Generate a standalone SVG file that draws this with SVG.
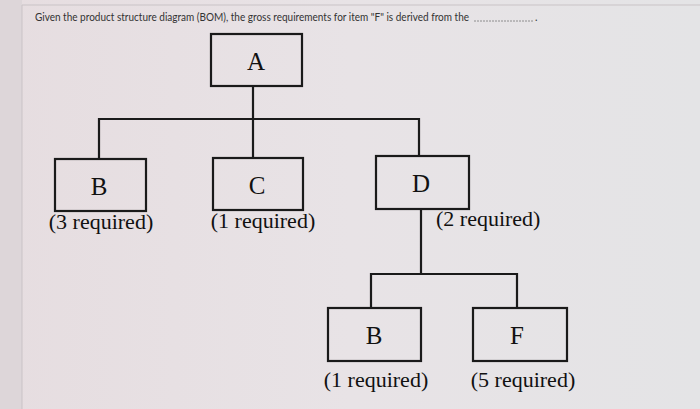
<svg xmlns="http://www.w3.org/2000/svg" width="700" height="409" viewBox="0 0 700 409">
  <defs>
    <linearGradient id="bg" x1="0" y1="0" x2="1" y2="0">
      <stop offset="0" stop-color="#e6dde0"/>
      <stop offset="0.5" stop-color="#e8e3e6"/>
      <stop offset="1" stop-color="#e4e4e6"/>
    </linearGradient>
  </defs>
  <style>
    .box { fill: none; stroke: #1a1a1a; stroke-width: 2.2; }
    .conn { fill: none; stroke: #1a1a1a; stroke-width: 2.2; }
    .letter { font-family: "Liberation Serif", "Times New Roman", serif; font-size: 25px; fill: #111; text-anchor: middle; }
    .qty { font-family: "Liberation Serif", "Times New Roman", serif; font-size: 22px; fill: #111; }
    .title { font-family: Lato, "Liberation Sans", sans-serif; font-size: 10.5px; fill: #333; }
  </style>
  <rect x="0" y="0" width="700" height="409" fill="url(#bg)"/>
  <rect x="0" y="0" width="22" height="409" fill="#ddd6d9"/>
  <line x1="22" y1="5" x2="22" y2="409" stroke="#c9c3c6" stroke-width="1"/>
  <line x1="22" y1="5" x2="700" y2="5" stroke="#c9c3c6" stroke-width="1"/>

  <text class="title" x="35" y="21" textLength="434" lengthAdjust="spacingAndGlyphs">Given the product structure diagram (BOM), the gross requirements for item "F" is derived from the</text>
  <line x1="474" y1="21" x2="534" y2="21" stroke="#777" stroke-width="0.8" stroke-dasharray="2 1"/>
  <text class="title" x="535" y="21">.</text>

  <g id="connectors">
    <polyline class="conn" points="253,86 253,119"/>
    <polyline class="conn" points="99,159 99,119 419,119 419,156"/>
    <polyline class="conn" points="253,119 253,158"/>
    <polyline class="conn" points="421,209 421,274"/>
    <polyline class="conn" points="371,308 371,274 517,274 517,308"/>
  </g>

  <g id="node-A">
    <rect class="box" x="211" y="34" width="91" height="52"/>
    <text class="letter" x="256" y="70">A</text>
  </g>
  <g id="node-B1">
    <rect class="box" x="55" y="159" width="91" height="52"/>
    <text class="letter" x="99" y="195">B</text>
    <text class="qty" x="101" y="229" text-anchor="middle">(3 required)</text>
  </g>
  <g id="node-C">
    <rect class="box" x="213" y="158" width="90" height="52"/>
    <text class="letter" x="257" y="194">C</text>
    <text class="qty" x="263" y="228" text-anchor="middle">(1 required)</text>
  </g>
  <g id="node-D">
    <rect class="box" x="376" y="156" width="93" height="53"/>
    <text class="letter" x="421" y="192">D</text>
    <text class="qty" x="436" y="226">(2 required)</text>
  </g>
  <g id="node-B2">
    <rect class="box" x="328" y="308" width="93" height="53"/>
    <text class="letter" x="374" y="344">B</text>
    <text class="qty" x="376" y="387" text-anchor="middle">(1 required)</text>
  </g>
  <g id="node-F">
    <rect class="box" x="473" y="308" width="94" height="53"/>
    <text class="letter" x="517" y="344">F</text>
    <text class="qty" x="523" y="387" text-anchor="middle">(5 required)</text>
  </g>
</svg>
